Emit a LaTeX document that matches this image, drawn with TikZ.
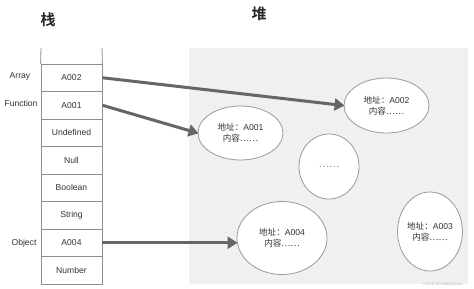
\documentclass[tikz,border=0pt]{standalone}
\usepackage{fontspec}
\setmainfont{Liberation Sans}
\newfontfamily\cjk{Noto Sans CJK SC}
\newfontfamily\cjkb{Noto Sans CJK SC Bold}
\usetikzlibrary{shapes.geometric,arrows.meta}
\definecolor{bgheap}{HTML}{F0F0F0}
\definecolor{cellline}{HTML}{8C8C8C}
\definecolor{arrowc}{HTML}{666666}
\definecolor{ellline}{HTML}{9A9A9A}
\definecolor{txt}{HTML}{333333}
\tikzset{
  cell/.style={draw=cellline, line width=0.8pt, minimum width=61pt, minimum height=27.5pt, inner sep=0pt, font=\fontsize{8.6}{10}\selectfont, text=txt},
  sidelabel/.style={font=\fontsize{8.6}{10}\selectfont, text=txt, inner sep=0pt},
  heapobj/.style={ellipse, draw=ellline, line width=0.8pt, fill=white, inner sep=0pt, align=center, font=\fontsize{8.6}{11}\selectfont, text=txt},
  refarrow/.style={draw=arrowc, line width=3pt, -{Triangle[length=10pt,width=12pt]}, shorten >=-1pt},
  title/.style={font=\cjkb\fontsize{15}{16}\selectfont, text=black!85, inner sep=0pt}
}
\begin{document}
\begin{tikzpicture}[x=1pt,y=-1pt]
\useasboundingbox (0,0) rectangle (474,289);
\fill[white] (0,0) rectangle (474,289);
% heap background
\fill[bgheap] (189,48) rectangle (468,284);
% titles
\node[title] (tstack) at (48,20) {栈};
\node[title] (theap) at (259,14) {堆};
% stack
\coordinate (topl) at (41,48);
\coordinate (topr) at (102,48);
\node[cell] (s1) at (71.5,77.75) {A002};
\node[cell] (s2) at (71.5,105.25) {A001};
\node[cell] (s3) at (71.5,132.75) {Undefined};
\node[cell] (s4) at (71.5,160.25) {Null};
\node[cell] (s5) at (71.5,187.75) {Boolean};
\node[cell] (s6) at (71.5,215.25) {String};
\node[cell] (s7) at (71.5,242.75) {A004};
\node[cell] (s8) at (71.5,270.25) {Number};
\draw[cellline, line width=0.8pt] (topl) -- (s1.north west);
\draw[cellline, line width=0.8pt] (topr) -- (s1.north east);
% side labels
\node[sidelabel] (lArray) at (20,76.5) {Array};
\node[sidelabel] (lFunc) at (21,103.5) {Function};
\node[sidelabel] (lObj) at (24,243) {Object};
% heap objects
\node[heapobj, minimum width=85pt, minimum height=54pt] (e1) at (240.5,133) {{\cjk 地址：}A001\\{\cjk 内容……}};
\node[heapobj, minimum width=85pt, minimum height=55pt] (e2) at (386.5,105.5) {{\cjk 地址：}A002\\{\cjk 内容……}};
\node[heapobj, minimum width=60pt, minimum height=65pt, font=\cjk\fontsize{9.5}{10}\selectfont, text=black!45] (e5) at (329,166.5) {……};
\node[heapobj, minimum width=90pt, minimum height=73pt] (e4) at (282,238) {{\cjk 地址：}A004\\{\cjk 内容……}};
\node[heapobj, minimum width=64pt, minimum height=79pt] (e3) at (430,231.5) {{\cjk 地址：}A003\\{\cjk 内容……}};
% arrows
\draw[refarrow] (s1.east) -- (e2.west);
\draw[refarrow] (s2.east) -- (e1.west);
\draw[refarrow] (s7.east) -- (s7.east -| e4.west);
% watermark
\node[font=\fontsize{4}{5}\selectfont, text=black!25, inner sep=0pt] (wm) at (443,284) {CSDN @CodingShow};
\end{tikzpicture}
\end{document}
